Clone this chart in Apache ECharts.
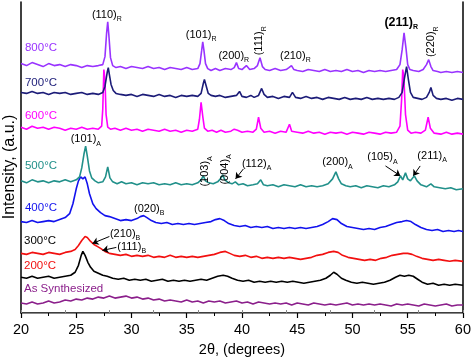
<!DOCTYPE html>
<html><head><meta charset="utf-8">
<script src="https://cdn.jsdelivr.net/npm/echarts@6/dist/echarts.min.js"></script>
<style>html,body{margin:0;padding:0;background:#fff}#c{width:474px;height:362px}</style>
</head><body><div id="c"></div>
<script>
// ---- data: [2theta (deg), stacked intensity (a.u.)] ----
const xTicks = [20, 25, 30, 35, 40, 45, 50, 55, 60];

const sAs = [[20,10],[20.5,9],[21,11],[21.5,9],[22,10],[22.5,12],[23,10],[23.5,11],[24,13],[24.5,12],[25,14],[25.5,13],[26,15],[26.5,14],[27,16],[27.5,15],[28,17],[28.5,15],[29,16],[29.5,17],[30,15],[30.5,16],[31,14],[31.5,15],[32,13],[32.5,14],[33,12],[33.5,13],[34,12],[34.5,11],[35,13],[35.5,11],[36,12],[36.5,10],[37,12],[37.5,11],[38,12],[38.5,10],[39,11],[39.5,12],[40,10],[40.5,11],[41,9],[41.5,11],[42,10],[42.5,9],[43,10],[43.5,9],[44,10],[44.5,8],[45,10],[45.5,9],[46,8],[46.5,10],[47,9],[47.5,8],[48,9],[48.5,8],[49,9],[49.5,10],[50,8],[50.5,9],[51,8],[51.5,9],[52,8],[52.5,9],[53,8],[53.5,7],[54,9],[54.5,8],[55,9],[55.5,8],[56,7],[56.5,9],[57,8],[57.5,7],[58,8],[58.5,9],[59,7],[59.5,8],[60,8]];

const sBlack = [[20,36],[20.5,35],[21,37],[21.5,35],[22,36],[22.5,37],[23,35],[23.5,36],[24,37],[24.5,38],[24.9,41],[25.2,48],[25.45,58],[25.6,62],[25.8,58],[26.05,51],[26.3,46],[26.6,42],[27,40],[27.4,38],[27.8,37],[28.3,35],[28.8,34],[29.3,35],[29.8,33],[30.3,34],[30.8,33],[31.3,34],[31.8,32],[32.3,33],[32.8,34],[33.3,32],[33.8,33],[34.3,32],[34.8,33],[35.3,32],[35.8,33],[36.3,34],[36.8,33],[37.3,35],[37.8,37],[38.3,38],[38.7,37],[39.1,35],[39.6,33],[40.1,32],[40.6,33],[41.1,31],[41.6,32],[42.1,31],[42.6,32],[43.1,31],[43.6,32],[44.1,31],[44.6,32],[45.1,31],[45.6,30],[46.1,31],[46.6,32],[47.1,33],[47.6,35],[48,38],[48.3,41],[48.6,39],[49,35],[49.4,33],[49.9,31],[50.4,30],[50.9,31],[51.4,30],[51.9,29],[52.4,30],[52.9,31],[53.4,33],[53.9,36],[54.3,38],[54.7,37],[55.1,38],[55.5,37],[55.9,34],[56.3,31],[56.8,29],[57.3,30],[57.8,28],[58.3,29],[58.8,28],[59.3,29],[60,28]];

const sRed = [[20,60],[20.5,59],[21,61],[21.5,60],[22,59],[22.5,61],[23,60],[23.5,59],[24,61],[24.5,62],[24.9,64],[25.2,68],[25.5,73],[25.8,77],[26,76],[26.3,72],[26.6,69],[26.9,67],[27.2,65],[27.6,62],[28,60],[28.5,59],[29,58],[29.5,59],[30,57],[30.5,58],[31,57],[31.5,58],[32,56],[32.5,57],[33,56],[33.5,58],[34,56],[34.5,57],[35,56],[35.5,57],[36,56],[36.5,57],[37,58],[37.5,59],[38,61],[38.5,62],[38.9,60],[39.3,58],[39.8,57],[40.3,58],[40.8,56],[41.3,57],[41.8,55],[42.3,56],[42.8,55],[43.3,56],[43.8,55],[44.3,56],[44.8,55],[45.3,54],[45.8,55],[46.3,56],[46.8,58],[47.3,59],[47.8,61],[48.3,62],[48.7,61],[49.1,58],[49.6,56],[50.1,55],[50.6,54],[51.1,53],[51.6,54],[52.1,53],[52.6,55],[53.1,56],[53.6,58],[54.1,59],[54.6,60],[55,60],[55.4,59],[55.8,57],[56.3,55],[56.8,54],[57.3,53],[57.8,54],[58.3,53],[58.8,52],[59.3,53],[60,52]];

const sBlue = [[20,92],[20.5,91],[21,93],[21.5,91],[22,92],[22.5,93],[23,92],[23.5,94],[24,96],[24.4,100],[24.7,110],[25,125],[25.2,133],[25.4,137],[25.6,135],[25.8,137],[26,130],[26.2,120],[26.5,110],[26.8,105],[27.2,101],[27.6,98],[28,97],[28.5,95],[29,93],[29.5,94],[30,93],[30.5,95],[30.8,97],[31.1,98],[31.4,96],[31.8,93],[32.2,91],[32.7,90],[33.2,91],[33.7,89],[34.2,90],[34.7,89],[35.2,90],[35.7,89],[36.2,90],[36.7,91],[37.2,92],[37.6,94],[38,95],[38.4,93],[38.8,90],[39.3,88],[39.8,87],[40.3,88],[40.8,86],[41.3,87],[41.8,86],[42.3,87],[42.8,85],[43.3,86],[43.8,85],[44.3,86],[44.8,85],[45.3,86],[45.8,85],[46.3,86],[46.8,87],[47.3,89],[47.8,92],[48.2,95],[48.6,94],[49,90],[49.5,87],[50,86],[50.5,85],[51,84],[51.5,85],[52,84],[52.5,86],[53,87],[53.5,89],[54,91],[54.5,92],[54.9,93],[55.3,92],[55.7,89],[56.2,86],[56.7,84],[57.2,83],[57.7,84],[58.2,82],[58.7,83],[59.2,82],[59.6,83],[60,82]];

const sTeal = [[20,133],[20.5,131],[21,134],[21.5,132],[22,133],[22.5,131],[23,133],[23.5,132],[24,134],[24.5,132],[25,134],[25.3,137],[25.5,146],[25.7,160],[25.85,168],[26,158],[26.2,143],[26.4,136],[26.7,133],[27,131],[27.4,132],[27.65,137],[27.85,147],[28.05,136],[28.3,132],[28.7,130],[29.1,132],[29.5,130],[30,131],[30.5,129],[31,131],[31.5,130],[32,131],[32.5,129],[33,130],[33.5,129],[34,131],[34.5,129],[35,130],[35.5,129],[36,131],[36.3,134],[36.5,138],[36.7,133],[37,131],[37.4,130],[37.8,132],[38.05,135],[38.25,139],[38.45,134],[38.8,131],[39.1,130],[39.4,132],[39.7,129],[40.1,130],[40.5,128],[41,129],[41.4,130],[41.7,134],[41.95,129],[42.3,128],[42.8,129],[43.3,127],[43.8,129],[44.3,128],[44.8,127],[45.3,129],[45.8,127],[46.3,128],[46.8,127],[47.3,128],[47.8,130],[48.2,135],[48.5,142],[48.75,135],[49,130],[49.4,128],[49.8,127],[50.3,128],[50.8,126],[51.3,128],[51.8,127],[52.3,126],[52.8,128],[53.3,127],[53.8,129],[54.1,132],[54.35,138],[54.55,134],[54.8,141],[55,135],[55.25,133],[55.6,138],[55.85,133],[56.2,129],[56.7,127],[57.1,130],[57.4,127],[57.9,126],[58.4,125],[58.9,126],[59.4,124],[60,125]];

const s600 = [[20,187],[20.5,185],[21,188],[21.5,186],[22,187],[22.5,185],[23,187],[23.5,186],[24,184],[24.5,186],[25,185],[25.5,187],[26,185],[26.5,186],[27,185],[27.3,188],[27.4,205],[27.5,245],[27.6,235],[27.7,200],[27.85,187],[28.1,185],[28.5,186],[29,184],[29.5,186],[30,184],[30.5,185],[31,183],[31.5,185],[32,184],[32.5,183],[33,185],[33.5,183],[34,184],[34.5,182],[35,184],[35.5,183],[36,185],[36.15,195],[36.3,212],[36.45,198],[36.6,186],[36.9,183],[37.3,184],[37.7,182],[38.1,184],[38.5,182],[39,183],[39.3,185],[39.45,187],[39.6,184],[40,182],[40.5,183],[41,182],[41.3,185],[41.5,197],[41.7,186],[42,182],[42.5,183],[43,181],[43.5,183],[44,182],[44.3,190],[44.5,183],[45,182],[45.5,181],[46,183],[46.5,181],[47,182],[47.5,180],[48,182],[48.5,181],[49,182],[49.5,180],[50,182],[50.5,181],[51,180],[51.5,182],[52,181],[52.5,180],[53,182],[53.5,181],[54,182],[54.3,188],[54.45,215],[54.55,245],[54.65,238],[54.8,200],[55,184],[55.3,181],[55.7,182],[56.2,181],[56.6,184],[56.85,197],[57.05,186],[57.4,181],[58,180],[58.5,182],[59,180],[59.5,181],[60,180]];

const s700 = [[20,222],[20.5,221],[21,223],[21.5,221],[22,222],[22.5,220],[23,222],[23.5,221],[24,222],[24.5,220],[25,221],[25.5,222],[26,220],[26.5,221],[27,220],[27.4,222],[27.6,228],[27.8,242],[27.9,247],[28,240],[28.15,230],[28.35,224],[28.6,221],[29,220],[29.5,219],[30,220],[30.5,218],[31,220],[31.5,219],[32,218],[32.5,220],[33,218],[33.5,219],[34,217],[34.5,219],[35,218],[35.5,219],[36,218],[36.3,221],[36.5,231],[36.6,235],[36.75,229],[36.95,221],[37.2,219],[37.6,218],[38,219],[38.5,217],[39,218],[39.5,219],[39.78,223],[40,218],[40.4,217],[40.8,219],[41.1,217],[41.5,219],[41.78,226],[42,220],[42.3,217],[42.8,218],[43.3,216],[43.8,218],[44.3,217],[44.57,222],[44.85,217],[45.3,216],[45.8,218],[46.3,216],[46.8,217],[47.3,215],[47.8,217],[48.3,216],[48.8,215],[49.3,217],[49.8,215],[50.3,216],[50.8,215],[51.3,217],[51.8,215],[52.3,216],[52.8,215],[53.3,216],[53.8,215],[54.2,217],[54.5,222],[54.7,236],[54.9,248],[55.05,236],[55.25,222],[55.5,217],[55.9,216],[56.3,215],[56.7,217],[56.95,222],[57.1,227],[57.3,219],[57.6,216],[58,215],[58.5,216],[59,214],[59.5,216],[60,215]];

const s800 = [[20,251],[20.5,249],[21,252],[21.5,250],[22,248],[22.5,251],[23,249],[23.5,250],[24,248],[24.5,250],[25,249],[25.5,247],[26,249],[26.5,248],[27,249],[27.4,250],[27.6,258],[27.75,282],[27.85,293],[27.95,280],[28.1,257],[28.3,249],[28.6,247],[29,248],[29.5,246],[30,248],[30.5,247],[31,246],[31.5,248],[32,246],[32.5,247],[33,245],[33.5,247],[34,246],[34.5,245],[35,247],[35.5,245],[36,246],[36.2,251],[36.35,264],[36.45,273],[36.55,265],[36.7,251],[36.9,246],[37.2,244],[37.6,246],[38,244],[38.5,246],[39,245],[39.3,247],[39.5,252],[39.7,246],[40,245],[40.4,249],[40.7,245],[41.1,246],[41.4,249],[41.63,257],[41.85,248],[42.1,245],[42.5,244],[43,246],[43.5,244],[44,245],[44.25,247],[44.48,249],[44.7,245],[45,244],[45.5,243],[46,245],[46.5,244],[47,243],[47.5,245],[48,243],[48.5,244],[49,243],[49.5,245],[50,243],[50.5,244],[51,242],[51.5,244],[52,243],[52.5,244],[53,243],[53.5,244],[54,245],[54.3,250],[54.5,265],[54.67,282],[54.85,266],[55,250],[55.2,245],[55.5,244],[56,243],[56.4,245],[56.7,250],[56.9,255],[57.1,248],[57.3,244],[57.7,243],[58,242],[58.5,243],[59,242],[59.5,243],[60,242]];

const sampleLabels = ['As Synthesized', '200°C', '300°C', '400°C', '500°C', '600°C', '700°C', '800°C'];

const hklText = ['(110)','(101)','(200)','(111)','(210)','(211)','(220)','(101)','(103)','(004)','(112)','(200)','(105)','(211)','(020)','(210)','(111)'];
const hklPhase = ['R','R','R','R','R','R','R','A','A','A','A','A','A','A','B','B','B'];

// ---- layout / style (kept apart from data) ----
const FONT = '"Liberation Sans", Arial, sans-serif';
const seriesStyle = [
  {data: sAs,    color: '#8b1f8b'},
  {data: sBlack, color: '#000000'},
  {data: sRed,   color: '#f21010'},
  {data: sBlue,  color: '#1212ee'},
  {data: sTeal,  color: '#21908a'},
  {data: s600,   color: '#ff00ff'},
  {data: s700,   color: '#1c1c78'},
  {data: s800,   color: '#9933ff'}
];
const sampleLabelPos = [[20.27,24],[20.27,47],[20.27,73],[20.36,106],[20.36,148],[20.36,198],[20.36,232],[20.36,267]];
const sampleLabelColor = ['#8b1f8b','#f21010','#000000','#1212ee','#21908a','#ff00ff','#1c1c78','#9933ff'];
const hklPos = [
  [27.77,300,0,0],[36.31,280,0,0],[39.26,259,0,0],[41.55,274,1,0],[44.83,259,0,0],[54.41,292,0,1],[57.12,273,1,0],
  [25.87,175,0,0],[36.69,142.5,1,0],[38.43,144.5,1,0],[41.33,150,0,0],[48.65,151.7,0,0],[52.72,156.7,0,0],[57.21,158.3,0,0],
  [31.6,105,0,0],[29.42,80,0,0],[30.02,66.7,0,0]
];
const arrows = [
  [[40.13,145],[39.42,135]],
  [[52.99,148],[54.34,138]],
  [[56.13,148],[55.5,138]],
  [[28.0,77],[26.47,70]],
  [[28.63,66],[27.37,63]]
];

const chart = echarts.init(document.getElementById('c'));

const series = seriesStyle.map((s, i) => ({
  type: 'line', name: sampleLabels[i], data: s.data, showSymbol: false, symbol: 'none',
  lineStyle: {color: s.color, width: 1.6}, itemStyle: {color: s.color}, z: 2 + i, silent: true
}));
series.push({
  type: 'line', data: [], silent: true, z: 20,
  markLine: {
    silent: true, symbol: ['none', 'arrow'], symbolSize: 6, animation: false,
    label: {show: false},
    lineStyle: {color: '#000', width: 1, type: 'solid'},
    data: arrows.map(a => [{coord: a[0]}, {coord: a[1]}])
  }
});

chart.setOption({
  animation: false,
  grid: {left: 21, right: 8, top: 2, bottom: 47},
  xAxis: [{
    type: 'value', min: xTicks[0], max: xTicks[xTicks.length - 1], interval: 5, position: 'bottom',
    axisLine: {lineStyle: {color: '#000', width: 1.5}},
    axisTick: {length: 5, lineStyle: {color: '#000', width: 1.2}},
    minorTick: {show: true, splitNumber: 2, length: 3, lineStyle: {color: '#000', width: 1}},
    axisLabel: {fontSize: 14.5, color: '#000', margin: 9, fontFamily: FONT},
    splitLine: {show: false},
    name: '2θ, (degrees)', nameLocation: 'middle', nameGap: 29,
    nameTextStyle: {fontSize: 14.5, color: '#000', fontFamily: FONT}
  }, {
    type: 'value', min: 20, max: 60, interval: 4, position: 'top',
    axisLine: {lineStyle: {color: '#888', width: 1}},
    axisTick: {length: 3, lineStyle: {color: '#888'}},
    axisLabel: {show: false}, splitLine: {show: false}
  }],
  yAxis: [{
    type: 'value', min: 0, max: 313, position: 'left',
    axisLine: {show: true, lineStyle: {color: '#000', width: 1.5}},
    axisTick: {show: false}, axisLabel: {show: false}, splitLine: {show: false}
  }, {
    type: 'value', min: 0, max: 313, position: 'right',
    axisLine: {show: true, lineStyle: {color: '#000', width: 1.5}},
    axisTick: {show: false}, axisLabel: {show: false}, splitLine: {show: false}
  }],
  series: series
});

function px(p) { return chart.convertToPixel({xAxisIndex: 0, yAxisIndex: 0}, p); }

const graphics = [];
sampleLabels.forEach((t, i) => {
  const p = px(sampleLabelPos[i]);
  graphics.push({type: 'text', x: p[0], y: p[1], z: 50, silent: true,
    style: {text: t, fill: sampleLabelColor[i], font: '11.5px ' + FONT, align: 'left', verticalAlign: 'middle'}});
});
hklText.forEach((t, i) => {
  const h = hklPos[i];
  const p = px([h[0], h[1]]);
  graphics.push({type: 'text', x: p[0], y: p[1], rotation: h[2] ? Math.PI / 2 : 0, z: 50, silent: true,
    style: {
      text: '{m|' + t + '}{s|' + hklPhase[i] + '}', align: 'center', verticalAlign: 'middle',
      rich: {
        m: {fontSize: h[3] ? 12.5 : 11, fontWeight: h[3] ? 'bold' : 'normal', fontFamily: FONT, fill: '#000', lineHeight: 16},
        s: {fontSize: 7, fontWeight: h[3] ? 'bold' : 'normal', fontFamily: FONT, fill: '#000', lineHeight: 8, verticalAlign: 'bottom'}
      }
    }});
});
const yMid = px([20, 147]);
graphics.push({type: 'text', x: 9.5, y: yMid[1], rotation: Math.PI / 2, silent: true,
  style: {text: 'Intensity, (a.u.)', fill: '#000', font: '16px ' + FONT, align: 'center', verticalAlign: 'middle'}});

chart.setOption({graphic: graphics});
</script>
</body></html>
